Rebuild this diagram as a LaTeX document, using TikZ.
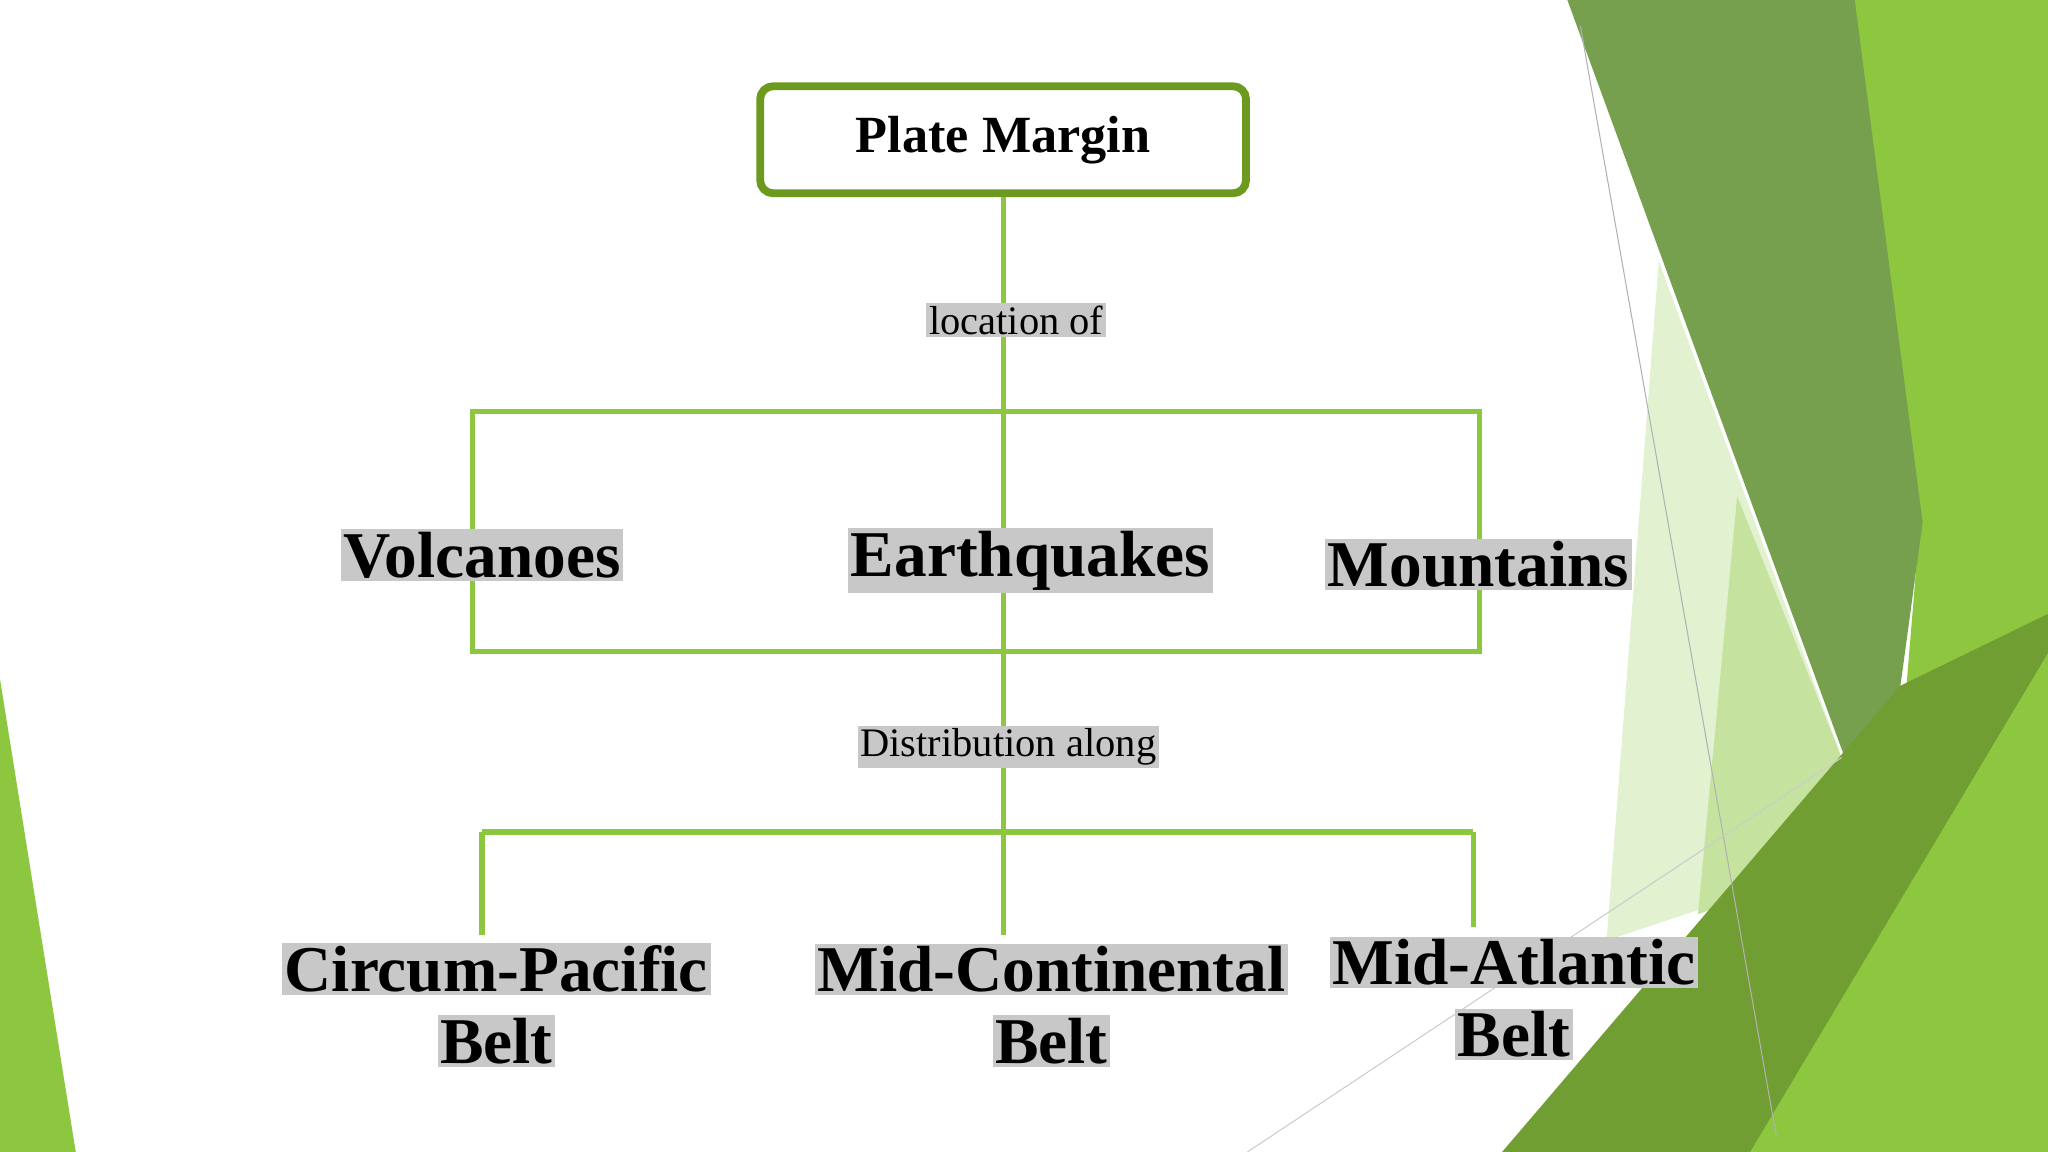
\documentclass[tikz,border=0pt]{standalone}
\usepackage{fontspec}
\setmainfont{Liberation Serif}
\begin{document}
\begin{tikzpicture}[x=1pt,y=-1pt,
  lab/.style={fill=labgray,inner sep=2pt,font=\bfseries\fontsize{50}{54}\selectfont},
  small/.style={fill=labgray,inner sep=2pt,font=\fontsize{31}{34}\selectfont},
  ln/.style={draw=lgreen,line width=4pt}]
\definecolor{lgreen}{HTML}{8DC63F}
\definecolor{dgreen}{HTML}{6B9A1F}
\definecolor{olgreen}{HTML}{76A04D}
\definecolor{labgray}{HTML}{C8C8C8}
\useasboundingbox (0,0) rectangle (1568,882);
\fill[white] (0,0) rectangle (1568,882);
% background shapes
\fill[lgreen] (0,520) -- (58,882) -- (0,882) -- cycle;
\fill[lgreen] (1408,0) -- (1568,0) -- (1568,882) -- (1430,882) -- (1470,400) -- cycle;
\fill[olgreen] (1200,0) -- (1420,0) -- (1472,400) -- (1438,650) -- cycle;
\fill[lgreen!25!white] (1270,200) -- (1410,580) -- (1440,650) -- (1230,720) -- cycle;
\fill[lgreen!50!white] (1330,380) -- (1410,580) -- (1440,650) -- (1300,700) -- cycle;
\fill[lgreen!80!black] (1150,882) -- (1455,525) -- (1568,470) -- (1568,882) -- cycle;
\fill[lgreen] (1340,882) -- (1568,500) -- (1568,882) -- cycle;
\draw[gray!60,line width=0.8pt] (1210,20) -- (1360,870);
\draw[gray!40,line width=0.8pt] (955,882) -- (1410,580);
% connectors
\coordinate (tl) at (362,315); \coordinate (tr) at (1133,315);
\coordinate (bl) at (362,499); \coordinate (br) at (1133,499);
\coordinate (cl) at (369,637); \coordinate (cr) at (1128,637);
\node[draw=dgreen,line width=6pt,rounded corners=10pt,fill=white,minimum width=372pt,minimum height=82pt,
  font=\bfseries\fontsize{40}{44}\selectfont] (pm) at (768,107) {Plate Margin};
\coordinate (bot) at (768,716);
\draw[ln] (pm.south) -- (bot);
\draw[ln] (tl) -- (tr) -- (br) -- (bl) -- cycle;
\draw[ln] (cl) -- (cr);
\draw[ln] (cl) -- (369,716);
\draw[ln] (cr) -- (1128,710);
\node[small] (loc) at (778,245) {location of};
\node[small] (dist) at (772,572) {Distribution along};
\node[lab] (v) at (369,425) {Volcanoes};
\node[lab] (e) at (789,429) {Earthquakes};
\node[lab] (m) at (1132,432) {Mountains};
\node[lab] (c1) at (380,742) {Circum-Pacific};
\node[lab] (c2) at (380,797) {Belt};
\node[lab] (mc1) at (805,742) {Mid-Continental};
\node[lab] (mc2) at (805,797) {Belt};
\node[lab] (ma1) at (1159,737) {Mid-Atlantic};
\node[lab] (ma2) at (1159,792) {Belt};
\end{tikzpicture}
\end{document}
